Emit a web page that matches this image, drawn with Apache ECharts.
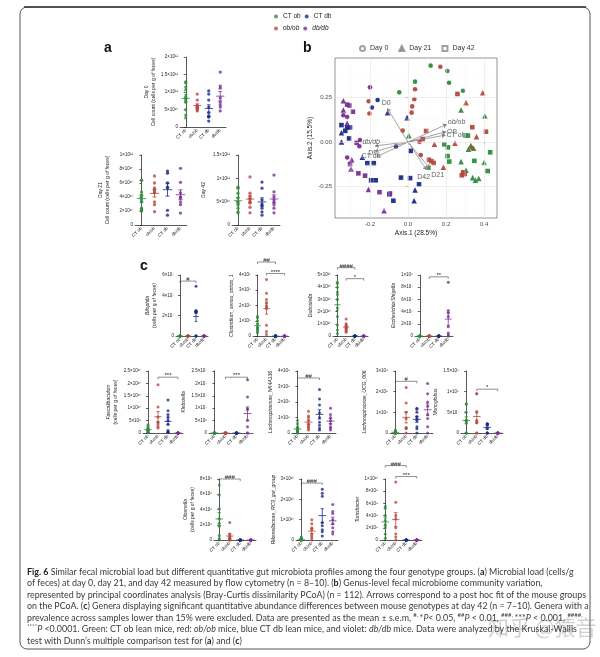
<!DOCTYPE html>
<html><head><meta charset="utf-8">
<script src="https://cdn.jsdelivr.net/npm/echarts@6/dist/echarts.min.js"></script>
<style>html,body{margin:0;padding:0;background:#fff}#c{width:600px;height:657px}</style>
</head><body><div id="c"></div>
<script>
// ---------------- DATA ----------------
const categories = ['CT ob', 'ob/ob', 'CT db', 'db/db'];

// Panel a: microbial load (cells / g feces), groups in category order
const loadDay0 = [
  [12.9e10, 12.6e10, 11.4e10, 10.6e10, 8.6e10, 8.3e10, 7.7e10, 7.1e10, 4.9e10, 3.4e10, 2.6e10],
  [9.4e10, 7.7e10, 6.0e10, 5.7e10, 5.4e10, 4.9e10, 4.6e10, 5.2e10, 6.2e10],
  [10.3e10, 9.4e10, 7.7e10, 5.7e10, 4.0e10, 3.1e10, 2.9e10, 2.9e10, 1.7e10],
  [15.7e10, 11.7e10, 11.1e10, 8.3e10, 7.1e10, 6.3e10, 5.7e10, 4.6e10]
];
const loadDay21 = [
  [6.4e10, 6.4e10, 4.7e10, 4.3e10, 4.0e10, 3.6e10, 3.3e10, 2.4e10, 2.3e10, 2.1e10, 2.0e10],
  [7.0e10, 6.0e10, 5.3e10, 5.0e10, 4.7e10, 4.6e10, 3.3e10, 2.9e10, 1.9e10],
  [7.7e10, 7.4e10, 6.0e10, 5.4e10, 5.3e10, 2.1e10, 1.4e10],
  [8.1e10, 6.1e10, 4.6e10, 4.0e10, 3.9e10, 3.3e10, 2.9e10, 1.7e10]
];
const loadDay42 = [
  [8.1e10, 7.9e10, 6.8e10, 5.8e10, 4.9e10, 4.3e10, 3.6e10, 2.8e10, 2.6e10],
  [10.3e10, 6.8e10, 6.0e10, 5.6e10, 5.4e10, 4.9e10, 4.7e10, 3.8e10, 2.6e10],
  [9.2e10, 7.9e10, 5.4e10, 4.5e10, 4.1e10, 3.6e10, 2.8e10, 2.1e10],
  [10.7e10, 7.1e10, 6.0e10, 5.4e10, 4.9e10, 4.3e10, 3.6e10, 2.6e10]
];

// Panel b: PCoA coordinates [axis1, axis2, day(0=D0,1=D21,2=D42)]
const pcoaCTob = [
  [0.119,0.429,0],[0.207,0.399,0],[0.037,0.339,0],[0.216,0.333,0],[-0.046,0.279,0],[0.289,0.288,0],
  [0.279,0.18,1],[0.404,0.146,1],[0.004,0.036,1],[0.33,-0.02,1],[0.345,-0.035,1],[0.318,-0.04,1],
  [0.279,-0.11,1],[0.4,-0.115,1],[0.305,-0.158,1],[0.34,-0.2,1],[0.355,-0.215,1],[0.372,-0.205,1],
  [0.302,0.036,2],[0.315,0.036,2],[0.191,-0.013,2],[0.21,-0.03,2],[0.432,-0.058,2],[0.208,-0.079,2],
  [0.217,-0.11,2],[0.349,-0.106,2],[0.107,-0.144,2],[0.419,-0.163,2]
];
const pcoaObob = [
  [0.17,0.423,0],[0.037,0.296,0],[0.033,0.24,0],[0.022,0.2,0],[0.019,0.165,0],[-0.028,0.064,0],
  [0.06,0.0,0],[0.067,-0.073,0],[-0.207,0.229,0],[-0.203,0.16,0],
  [0.393,0.277,1],[0.305,0.221,1],[0.36,0.03,1],[0.139,-0.013,1],[0.247,-0.007,1],[0.335,-0.028,1],
  [0.186,-0.142,1],
  [0.26,0.27,2],[0.095,0.062,2],[0.338,0.083,2],[0.41,0.058,2],[0.077,0.017,2],[0.11,-0.1,2],
  [0.123,-0.108,2],[0.135,-0.118,2],[0.29,-0.17,2],[0.298,-0.18,2],[0.283,-0.187,2]
];
const pcoaCTdb = [
  [-0.16,0.236,0],[-0.19,0.194,0],[-0.063,-0.025,0],
  [-0.005,0.137,1],[-0.107,0.165,1],[-0.35,0.052,1],[-0.35,0.0,1],[0.037,-0.27,1],[0.032,-0.33,1],
  [-0.24,-0.085,1],
  [-0.35,0.095,2],[-0.32,0.082,2],[-0.305,0.082,2],[-0.33,0.063,2],[-0.31,0.02,2],[0.014,-0.05,2],
  [-0.037,-0.2,2],[0.058,-0.238,2],[-0.098,-0.294,2],[-0.077,-0.33,2],[-0.214,-0.119,2],
  [-0.18,-0.119,2],[-0.194,-0.215,2],[-0.17,-0.215,2],[0.011,-0.203,2]
];
const pcoaDbdb = [
  [-0.2,0.307,0],[-0.34,0.15,0],[-0.32,0.14,0],[-0.256,-0.024,0],[-0.32,-0.087,0],[-0.253,0.011,0],
  [-0.34,0.232,1],[-0.34,0.18,1],[-0.32,0.105,1],[-0.296,-0.1,1],[-0.3,-0.152,1],[-0.208,-0.267,1],
  [-0.126,-0.386,1],
  [-0.32,0.21,2],[-0.308,0.205,2],[-0.29,0.17,2],[-0.27,-0.005,2],[-0.305,-0.124,2],[-0.261,-0.176,2],
  [-0.226,-0.189,2],[-0.15,-0.282,2],[-0.095,-0.289,2]
];
const dayNames = ['Day 0', 'Day 21', 'Day 42'];
// post hoc fitted vectors
const fitNames = ['D0', 'ob/ob', 'OB', 'CT ob', 'db/db', 'DB', 'CT db', 'D42', 'D21'];
const fitX = [-0.109, 0.204, 0.2, 0.197, -0.174, -0.174, -0.165, 0.098, 0.114];
const fitY = [0.19, 0.10, 0.058, 0.039, -0.022, -0.054, -0.083, -0.157, -0.147];

// Panel c: genera at day 42 (cells / g feces)
const bilophila = [[0,0,0,0,0,0,0,0,0,0],[0,0,0,0,0,0,0,0,0],[4.9e7,2.5e7,2.4e7,2.4e7,2.4e7,2.3e7,2.3e7,0,0,0],[0,0,0,0,0,0,0,0]];
const clostridium = [[1.3e8,1.2e8,1.0e8,0.8e8,0.6e8,0.5e8,0.5e8,0.4e8,0.3e8,0.2e8],[3.7e8,2.8e8,2.4e8,2.2e8,2.0e8,1.9e8,1.8e8,0.7e8,0.3e8,0.1e8],[0,0,0,0,0,0,0,0,0,0],[0,0,0,0,0,0,0,0]];
const dubosiella = [[4.4e10,4.3e10,4.0e10,3.6e10,3.4e10,3.0e10,2.3e10,1.6e10,0.9e10,0.5e10,0.2e10],[1.4e10,1.0e10,0.9e10,0.8e10,0.7e10,0.6e10,0.5e10,0.4e10,0.3e10],[0,0,0,0,0,0,0,0,0],[0,0,0,0,0,0,0,0]];
const escherichia = [[0,0,0,0,0,0,0,0,0,0],[0,0,0,0,0,0,0,0,0],[0,0,0,0,0,0,0,0,0],[8.8e7,4.2e7,3.8e7,3.2e7,1.5e7,0.5e7,0.2e7,0]];
const faecalibaculum = [[3.3e9,2.6e9,2.0e9,1.6e9,1.3e9,1.0e9,0.8e9,0.5e9,0.3e9,0.2e9],[19.5e9,10.5e9,6.5e9,4.4e9,4.0e9,3.2e9,2.4e9,2.0e9],[13.3e9,9e9,7.5e9,6.5e9,5e9,3.5e9,1e9,0.5e9,0.3e9,0.2e9],[0,0,0,0,0,0,0,0]];
const klebsiella = [[0,0,0,0,0,0,0,0,0,0],[0,0,0,0,0,0,0,0,0],[0,0,0,0,0,0,0,0,0],[21.5e6,14.5e6,9.8e6,9.5e6,5e6,2.5e6,0,0]];
const lachnoNK4A136 = [[0.8e9,0.6e9,0.4e9,0.3e9,0.2e9,0.15e9,0.1e9,0.05e9,0,0],[1.4e9,1.1e9,1.0e9,0.8e9,0.6e9,0.5e9,0.4e9,0.3e9,0.2e9],[2.8e9,2.2e9,1.8e9,1.3e9,1.0e9,0.7e9,0.5e9,0.3e9,0.2e9],[1.6e9,1.2e9,1.0e9,0.8e9,0.6e9,0.4e9,0.3e9,0.2e9]];
const lachnoUCG006 = [[0.15e9,0.1e9,0.05e9,0,0,0,0,0,0],[2.2e9,1.45e9,1.0e9,0.7e9,0.25e9,0.25e9,0.2e9,0],[1.2e9,1.15e9,1.0e9,0.8e9,0.7e9,0.6e9,0.3e9,0.2e9,0],[2.4e9,1.9e9,1.5e9,1.3e9,0.9e9,0.7e9,0.3e9,0]];
const monoglobus = [[7e7,7e7,5e7,3e7,3e7,3e7,2.5e7,0,0,0],[9.5e7,9.5e7,5e7,3e7,2.5e7,2.5e7,0,0],[2.2e7,2.2e7,2.2e7,2.2e7,2e7,1e7,0,0,0],[0,0,0,0,0,0,0,0]];
const olsenella = [[7.2e6,5.9e6,4.1e6,2.8e6,2.2e6,1.8e6,0.6e6,0.2e6,0],[2.3e6,0.8e6,0.5e6,0.3e6,0.2e6,0.1e6,0,0],[0,0,0,0,0,0,0,0,0],[0,0,0,0,0,0,0,0]];
const rikenellaceae = [[0.15e10,0.1e10,0.05e10,0,0,0,0,0],[1.0e10,0.8e10,0.6e10,0.5e10,0.3e10,0.2e10,0.1e10,0],[2.5e10,2.3e10,2.15e10,0.85e10,0.7e10,0.5e10,0.4e10,0.2e10],[1.75e10,1.4e10,1.3e10,1.0e10,0.8e10,0.6e10,0.4e10,0.3e10]];
const turicibacter = [[5.5e9,5.2e9,4.0e9,3.2e9,2.5e9,2.0e9,1.0e9,0.3e9],[9.5e9,6.2e9,4.0e9,3.5e9,2.0e9,1.0e9,0.5e9,0],[0,0,0,0,0,0,0,0,0],[0,0,0,0,0,0,0,0]];

// significance brackets [fromCategory, toCategory, height, label]
const bracketsBilophila = [[0,2,5.4e7,'#']];
const bracketsClostridium = [[0,2,4.85e8,'##'],[1,3,4.1e8,'****']];
const bracketsDubosiella = [[0,2,5.6e10,'####'],[1,3,4.7e10,'*']];
const bracketsEscherichia = [[1,3,0.97e8,'**']];
const bracketsFaecalibaculum = [[1,3,2.25e10,'***']];
const bracketsKlebsiella = [[1,3,2.25e7,'***']];
const bracketsNK4A136 = [[0,2,3.55e9,'##']];
const bracketsUCG006 = [[0,2,2.5e9,'#']];
const bracketsMonoglobus = [[1,3,1.06e8,'*']];
const bracketsOlsenella = [[0,2,8.0e6,'###']];
const bracketsRikenellaceae = [[0,2,2.8e10,'###']];
const bracketsTuricibacter = [[0,2,1.22e10,'###'],[1,3,1.04e10,'***']];

const captionLines = [
  "{b|Fig. 6} Similar fecal microbial load but different quantitative gut microbiota profiles among the four genotype groups. ({b|a}) Microbial load (cells/g",
  "of feces) at day 0, day 21, and day 42 measured by flow cytometry (n = 8–10). ({b|b}) Genus-level fecal microbiome community variation,",
  "represented by principal coordinates analysis (Bray-Curtis dissimilarity PCoA) (n = 112). Arrows correspond to a post hoc fit of the mouse groups",
  "on the PCoA. ({b|c}) Genera displaying significant quantitative abundance differences between mouse genotypes at day 42 (n = 7–10). Genera with a",
  "prevalence across samples lower than 15% were excluded. Data are presented as the mean ± s.e.m, {s|#, }*{i|P}< 0.05, {s|##}{i|P} < 0.01, {s|###, }***{i|P} < 0.001, {s|####,}",
  "{s|****}{i|P} <0.0001. Green: CT ob lean mice, red: {i|ob/ob} mice, blue CT db lean mice, and violet: {i|db/db} mice. Data were analyzed by the Kruskal-Wallis",
  "test with Dunn’s multiple comparison test for ({b|a}) and ({b|c})"
];

// ---------------- STYLE / BUILD ----------------
const FONT = '"Liberation Sans", Arial, "DejaVu Sans", sans-serif';
const CAPFONT = 'Lato, "Open Sans", sans-serif';
const CAPFS = 8.9;
const COLORS = ['#2f8c3c', '#b5483d', '#1c2a86', '#7a2f93'];
const SUP = {'0':'⁰','1':'¹','2':'²','3':'³','4':'⁴','5':'⁵','6':'⁶','7':'⁷','8':'⁸','9':'⁹','-':'⁻'};
function sci(v) {
  if (v === 0) return '0';
  const e = Math.floor(Math.log10(v) + 1e-9);
  const m = +(v / Math.pow(10, e)).toFixed(2);
  return m + '×10' + String(e).split('').map(c => SUP[c]).join('');
}
function swarm(vals, max, hPx, catPx, s) {
  const order = vals.map((v, i) => i).sort((a, b) => vals[b] - vals[a]);
  const placed = [], offs = new Array(vals.length).fill(0);
  const cap = catPx * 0.42, step = s * 0.85;
  const cands = [0];
  for (let k = 1; k * step <= cap; k++) cands.push(k * step, -k * step);
  for (const i of order) {
    const y = vals[i] / max * hPx;
    let best = 0, bestC = 1e9;
    for (const dx of cands) {
      let c = 0;
      for (const p of placed) if (Math.abs(p.y - y) < s * 0.9 && Math.abs(p.x - dx) < s * 0.9) c++;
      if (c === 0) { best = dx; bestC = 0; break; }
      if (c < bestC) { bestC = c; best = dx; }
    }
    placed.push({x: best, y});
    offs[i] = best / catPx;
  }
  return offs;
}
const grids = [], xAxes = [], yAxes = [], series = [];

function addDot(cfg) {
  const gi = grids.length;
  grids.push({left: cfg.left, top: cfg.top, width: cfg.width, height: cfg.height});
  xAxes.push({type: 'category', gridIndex: gi, data: categories, boundaryGap: true,
    axisLine: {lineStyle: {color: '#111', width: 0.7}},
    axisTick: {alignWithLabel: true, length: 2, lineStyle: {color: '#111', width: 0.7}},
    axisLabel: {interval: 0, rotate: 45, fontSize: cfg.xfs || 4.6, margin: 2.5, color: '#222', fontFamily: FONT},
    splitLine: {show: false}});
  const xv = xAxes.length;
  xAxes.push({type: 'value', gridIndex: gi, min: -0.5, max: 3.5, show: false, splitLine: {show: false}});
  const yi = yAxes.length;
  yAxes.push({type: 'value', gridIndex: gi, min: 0, max: cfg.max, interval: cfg.interval,
    axisLine: {show: true, lineStyle: {color: '#111', width: 0.7}},
    axisTick: {show: true, length: 2, lineStyle: {color: '#111', width: 0.7}},
    splitLine: {show: false},
    axisLabel: {fontSize: cfg.yfs || 4.5, margin: 2, color: '#222', fontFamily: FONT, formatter: sci},
    name: cfg.name, nameLocation: 'middle', nameGap: cfg.nameGap, nameRotate: 90,
    nameTextStyle: {fontSize: cfg.nfs || 5, color: '#222', fontFamily: FONT, lineHeight: cfg.nlh || 7,
      rich: {i: {fontStyle: 'italic', fontSize: cfg.nfs || 5, fontFamily: FONT, color: '#222', lineHeight: cfg.nlh || 7}}}});
  const catPx = cfg.width / 4;
  const stats = [];
  cfg.data.forEach((vals, g) => {
    const offs = swarm(vals, cfg.max, cfg.height, catPx, cfg.size);
    series.push({type: 'scatter', name: 'p' + gi + '-' + g, xAxisIndex: xv, yAxisIndex: yi,
      symbolSize: cfg.size, itemStyle: {color: COLORS[g]}, silent: true, z: 3, clip: false,
      data: vals.map((v, k) => [g + offs[k], v])});
    const n = vals.length, m = vals.reduce((a, b) => a + b, 0) / n;
    const sd = Math.sqrt(vals.reduce((a, b) => a + (b - m) * (b - m), 0) / (n - 1));
    stats.push([g, m, sd / Math.sqrt(n)]);
  });
  series.push({type: 'custom', xAxisIndex: xv, yAxisIndex: yi, silent: true, z: 4, data: stats,
    renderItem: (p, api) => {
      const g = api.value(0), m = api.value(1), s = api.value(2);
      const c = api.coord([g, m]), hi = api.coord([g, m + s]), lo = api.coord([g, m - s]);
      const w = api.size([1, 0])[0];
      const hw = w * 0.36, cw = w * 0.16;
      const st = {stroke: COLORS[p.dataIndex], lineWidth: 0.8};
      return {type: 'group', children: [
        {type: 'line', shape: {x1: c[0] - hw, y1: c[1], x2: c[0] + hw, y2: c[1]}, style: st},
        {type: 'line', shape: {x1: c[0], y1: hi[1], x2: c[0], y2: lo[1]}, style: st},
        {type: 'line', shape: {x1: c[0] - cw, y1: hi[1], x2: c[0] + cw, y2: hi[1]}, style: st},
        {type: 'line', shape: {x1: c[0] - cw, y1: lo[1], x2: c[0] + cw, y2: lo[1]}, style: st}
      ]};
    }});
  if (cfg.brackets) {
    const br = cfg.brackets;
    series.push({type: 'custom', xAxisIndex: xv, yAxisIndex: yi, silent: true, z: 5,
      data: br.map(b => [b[0], b[1], b[2]]),
      renderItem: (p, api) => {
        const b = br[p.dataIndex];
        const a = api.coord([api.value(0), api.value(2)]), c = api.coord([api.value(1), api.value(2)]);
        return {type: 'group', children: [
          {type: 'polyline', shape: {points: [[a[0], a[1] + 2], [a[0], a[1]], [c[0], c[1]], [c[0], c[1] + 2]]},
            style: {stroke: '#444', lineWidth: 0.6, fill: null}},
          {type: 'text', style: {text: b[3], x: (a[0] + c[0]) / 2, y: a[1] + 1.5, align: 'center',
            verticalAlign: 'bottom', fontSize: 6, fontFamily: FONT, fill: '#222'}}
        ]};
      }});
  }
}

// Panel a
addDot({left: 180, top: 57, width: 46, height: 70, max: 2e11, interval: 5e10, data: loadDay0, size: 3.3,
  name: 'Day 0\nCell count (cells per g of feces)', nameGap: 22});
addDot({left: 135, top: 155, width: 52, height: 70, max: 1e11, interval: 2e10, data: loadDay21, size: 3.3,
  name: 'Day 21\nCell count (cells per g of feces)', nameGap: 24});
addDot({left: 232, top: 155, width: 48, height: 70, max: 1.5e11, interval: 5e10, data: loadDay42, size: 3.3,
  name: 'Day 42', nameGap: 25});

// Panel c, row 1
const CS = '\n(cells per g of feces)';
addDot({left: 176, top: 275, width: 32, height: 61, max: 6e7, interval: 2e7, data: bilophila, size: 3,
  name: '{i|Bilophila}' + CS, nameGap: 15, brackets: bracketsBilophila});
addDot({left: 253, top: 275, width: 36, height: 61, max: 4e8, interval: 1e8, data: clostridium, size: 3,
  name: '{i|Clostridium_sensu_stricto_1}', nameGap: 14, brackets: bracketsClostridium});
addDot({left: 333, top: 275, width: 35, height: 61, max: 5e10, interval: 1e10, data: dubosiella, size: 3,
  name: '{i|Dubosiella}', nameGap: 15, brackets: bracketsDubosiella});
addDot({left: 415, top: 275, width: 38, height: 61, max: 1e8, interval: 2e7, data: escherichia, size: 3,
  name: '{i|Escherichia/Shigella}', nameGap: 15, brackets: bracketsEscherichia});
// row 2
addDot({left: 143, top: 371, width: 40, height: 62, max: 2.5e10, interval: 5e9, data: faecalibaculum, size: 3,
  name: '{i|Faecalibaculum}' + CS, nameGap: 24, brackets: bracketsFaecalibaculum});
addDot({left: 209, top: 371, width: 44, height: 62, max: 2.5e7, interval: 5e6, data: klebsiella, size: 3,
  name: '{i|Klebsiella}', nameGap: 17, brackets: bracketsKlebsiella});
addDot({left: 292, top: 371, width: 44, height: 62, max: 4e9, interval: 1e9, data: lachnoNK4A136, size: 3,
  name: '{i|Lachnospiraceae_NK4A136}', nameGap: 15, brackets: bracketsNK4A136});
addDot({left: 390, top: 371, width: 43, height: 62, max: 3e9, interval: 1e9, data: lachnoUCG006, size: 3,
  name: '{i|Lachnospiraceae_UCG_006}', nameGap: 22, brackets: bracketsUCG006});
addDot({left: 461, top: 371, width: 42, height: 62, max: 1.5e8, interval: 5e7, data: monoglobus, size: 3,
  name: '{i|Monoglobus}', nameGap: 20, brackets: bracketsMonoglobus});
// row 3
addDot({left: 214, top: 479, width: 42, height: 61, max: 8e6, interval: 2e6, data: olsenella, size: 3,
  name: '{i|Olsenella}' + CS, nameGap: 17, brackets: bracketsOlsenella});
addDot({left: 296, top: 479, width: 42, height: 61, max: 3e10, interval: 1e10, data: rikenellaceae, size: 3,
  name: '{i|Rikenellaceae_RC9_gut_group}', nameGap: 18, brackets: bracketsRikenellaceae});
addDot({left: 380, top: 479, width: 42, height: 61, max: 1e10, interval: 2e9, data: turicibacter, size: 3,
  name: '{i|Turicibacter}', nameGap: 16, brackets: bracketsTuricibacter});

// Panel b: PCoA
const bg = grids.length;
grids.push({left: 335, top: 58, width: 162, height: 160, show: true, borderColor: '#666', borderWidth: 0.7, backgroundColor: '#fff'});
const bx = xAxes.length, by = yAxes.length;
xAxes.push({type: 'value', gridIndex: bg, min: -0.384, max: 0.468,
  axisLine: {show: false}, splitLine: {show: false},
  axisTick: {show: true, customValues: [-0.2, 0, 0.2, 0.4], length: 2.5, lineStyle: {color: '#333', width: 0.6}},
  axisLabel: {customValues: [-0.2, 0, 0.2, 0.4], formatter: v => v.toFixed(1), fontSize: 6, color: '#4d4d4d', margin: 3, fontFamily: FONT},
  name: 'Axis.1 (28.5%)', nameLocation: 'middle', nameGap: 12, nameTextStyle: {fontSize: 6.5, color: '#222', fontFamily: FONT}});
yAxes.push({type: 'value', gridIndex: bg, min: -0.427, max: 0.472,
  axisLine: {show: false}, splitLine: {show: false},
  axisTick: {show: true, customValues: [-0.25, 0, 0.25], length: 2.5, lineStyle: {color: '#333', width: 0.6}},
  axisLabel: {customValues: [-0.25, 0, 0.25], formatter: v => v.toFixed(2), fontSize: 6, color: '#4d4d4d', margin: 3, fontFamily: FONT},
  name: 'Axis.2 (15.5%)', nameLocation: 'middle', nameGap: 21, nameRotate: 90, nameTextStyle: {fontSize: 6.5, color: '#222', fontFamily: FONT}});
const major = {color: '#e4e4e4', width: 0.6, type: 'solid'}, minor = {color: '#f3f3f3', width: 0.4, type: 'solid'};
series.push({type: 'scatter', name: 'gridlines', xAxisIndex: bx, yAxisIndex: by, data: [], silent: true, z: 1,
  markLine: {silent: true, symbol: 'none', label: {show: false}, animation: false,
    data: [-0.3, -0.1, 0.1, 0.3].map(v => ({xAxis: v, lineStyle: minor}))
      .concat([-0.2, 0, 0.2, 0.4].map(v => ({xAxis: v, lineStyle: major})))
      .concat([-0.375, -0.125, 0.125, 0.375].map(v => ({yAxis: v, lineStyle: minor})))
      .concat([-0.25, 0, 0.25].map(v => ({yAxis: v, lineStyle: major})))}});
const daySymbols = ['circle', 'triangle', 'rect'];
const daySizes = [4.6, 5.6, 4.6];
[pcoaCTob, pcoaObob, pcoaCTdb, pcoaDbdb].forEach((arr, g) => {
  [0, 1, 2].forEach(d => {
    series.push({type: 'scatter', name: 'b' + g + '-' + d, xAxisIndex: bx, yAxisIndex: by, silent: true, z: 3,
      symbol: daySymbols[d], symbolSize: daySizes[d], itemStyle: {color: COLORS[g], opacity: 0.95},
      data: arr.filter(p => p[2] === d).map(p => [p[0], p[1]])});
  });
});
series.push({type: 'lines', coordinateSystem: 'cartesian2d', xAxisIndex: bx, yAxisIndex: by, silent: true, z: 4,
  symbol: ['none', 'arrow'], symbolSize: 4, lineStyle: {color: '#7a7a7a', width: 0.7, opacity: 1},
  data: fitNames.map((n, i) => ({coords: [[0, 0], [fitX[i], fitY[i]]]}))});
const fitLabel = {
  'D0': {position: 'top', offset: [-1, 0]}, 'ob/ob': {position: 'right', offset: [-1, -2]},
  'OB': {position: 'right', offset: [-1, 0]}, 'CT ob': {position: 'right', offset: [-1, 0]},
  'db/db': {position: 'left', offset: [7, -4]}, 'DB': {position: 'left', offset: [5, 1]},
  'CT db': {position: 'left', offset: [6, -1]}, 'D42': {position: 'bottom', offset: [-3, 2]},
  'D21': {position: 'bottom', offset: [8, 1]}
};
series.push({type: 'scatter', name: 'fitlabels', xAxisIndex: bx, yAxisIndex: by, silent: true, z: 5, symbolSize: 0,
  data: fitNames.map((n, i) => ({value: [fitX[i], fitY[i]], name: n,
    label: {show: true, position: fitLabel[n].position, offset: fitLabel[n].offset, distance: 2,
      formatter: n.indexOf('/') >= 0 ? '{i|' + n + '}' : n,
      fontSize: 7, color: '#333', fontFamily: FONT, textBorderColor: 'rgba(255,255,255,0.7)', textBorderWidth: 1.2,
      rich: {i: {fontStyle: 'italic', fontSize: 7, color: '#333', fontFamily: FONT, textBorderColor: 'rgba(255,255,255,0.7)', textBorderWidth: 1.2}}}}))});
// legend-only series
categories.forEach((c, g) => series.push({type: 'scatter', name: c, xAxisIndex: bx, yAxisIndex: by, data: [],
  symbol: 'circle', itemStyle: {color: COLORS[g]}}));
['emptyCircle', 'triangle', 'emptyRect'].forEach((s, d) => series.push({type: 'scatter', name: dayNames[d],
  xAxisIndex: bx, yAxisIndex: by, data: [], symbol: s, itemStyle: {color: '#8a8a8a', borderColor: '#8a8a8a', borderWidth: 0.8}}));

const legTxt = {fontSize: 6.5, color: '#222', fontFamily: FONT, rich: {i: {fontStyle: 'italic', fontSize: 6.5, color: '#222', fontFamily: FONT}}};
const legFmt = n => n.indexOf('/') >= 0 ? '{i|' + n + '}' : n;

const option = {
  animation: false,
  backgroundColor: '#fff',
  grid: grids, xAxis: xAxes, yAxis: yAxes, series: series,
  legend: [
    {data: ['CT ob', 'CT db'], left: 274, top: 13, itemWidth: 4, itemHeight: 4, itemGap: 4, padding: 0,
      selectedMode: false, textStyle: legTxt, formatter: legFmt},
    {data: ['ob/ob', 'db/db'], left: 274, top: 25, itemWidth: 4, itemHeight: 4, itemGap: 4, padding: 0,
      selectedMode: false, textStyle: legTxt, formatter: legFmt},
    {data: dayNames, left: 359, top: 45, itemWidth: 5, itemHeight: 5, itemGap: 10, padding: 0,
      selectedMode: false, textStyle: {fontSize: 7, color: '#333', fontFamily: FONT}}
  ],
  graphic: [
    {type: 'rect', shape: {x: 20, y: 7, width: 570, height: 642, r: 7}, style: {fill: 'none', stroke: '#555', lineWidth: 1}, silent: true},
    {type: 'line', shape: {x1: 24, y1: 7, x2: 586, y2: 7}, style: {stroke: '#333', lineWidth: 1.6}, silent: true},
    {type: 'text', x: 104, y: 41, style: {text: 'a', fontSize: 14, fontWeight: 'bold', fontFamily: FONT, fill: '#111'}},
    {type: 'text', x: 303, y: 41, style: {text: 'b', fontSize: 14, fontWeight: 'bold', fontFamily: FONT, fill: '#111'}},
    {type: 'text', x: 140, y: 259, style: {text: 'c', fontSize: 14, fontWeight: 'bold', fontFamily: FONT, fill: '#111'}},
    {type: 'text', x: 488, y: 617, silent: true, style: {text: '知乎 @猿音', fontSize: 21, fontFamily: '"Noto Sans CJK SC", sans-serif', fill: 'rgba(150,150,150,0.45)'}},
    {type: 'text', x: 27, y: 566, silent: true, style: {
      text: captionLines.join('\n'), fontSize: CAPFS, lineHeight: 11.5, fontFamily: CAPFONT, fill: '#3a3a3a',
      rich: {
        b: {fontWeight: 'bold', fontSize: CAPFS, lineHeight: 11.5, fontFamily: CAPFONT, fill: '#222'},
        i: {fontStyle: 'italic', fontSize: CAPFS, lineHeight: 11.5, fontFamily: CAPFONT, fill: '#3a3a3a'},
        s: {fontSize: 6, lineHeight: 11.5, verticalAlign: 'top', fontFamily: CAPFONT, fill: '#3a3a3a'}
      }}}
  ]
};
const chart = echarts.init(document.getElementById('c'), null, {renderer: 'canvas'});
chart.setOption(option);
</script>
</body></html>
